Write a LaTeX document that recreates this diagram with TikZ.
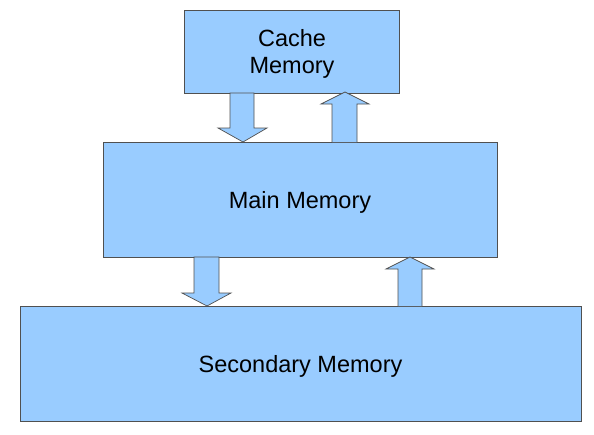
\documentclass[tikz,border=0pt]{standalone}
\usepackage{fontspec}
\setmainfont{Liberation Sans}
\definecolor{boxfill}{HTML}{99CCFF}
\definecolor{boxline}{HTML}{505050}
\begin{document}
\begin{tikzpicture}[x=1pt,y=-1pt,
  mem/.style={draw=boxline,fill=boxfill,line width=0.8pt,inner sep=0pt},
  memtext/.style={inner sep=0pt,align=center,font=\fontsize{23.5}{27}\selectfont},
  blockarrow/.style={draw=boxline,fill=boxfill,line width=0.7pt,line join=miter}]
\useasboundingbox (0,0) rectangle (594,434);
\node[mem,minimum width=215pt,minimum height=83pt] (cache) at (292,51.5) {};
\node[mem,minimum width=394pt,minimum height=115pt] (main) at (300,199.5) {};
\node[mem,minimum width=561pt,minimum height=115pt] (sec) at (300.5,363.5) {};
\node[memtext] (cachetext) at ([yshift=-2.5pt]cache.center) {Cache\\Memory};
\node[memtext] (maintext) at ([yshift=-2.5pt]main.center) {Main Memory};
\node[memtext] (sectext) at ([yshift=-2.5pt]sec.center) {Secondary Memory};
% cache -> main (down)
\draw[blockarrow] (230,93) -- (254,93) -- (254,128) -- (267,128) -- (243,142) -- (218,128) -- (230,128) -- cycle;
% main -> cache (up)
\draw[blockarrow] (332,142) -- (332,104) -- (321,104) -- (345,92) -- (369,104) -- (357,104) -- (357,142);
% main -> secondary (down)
\draw[blockarrow] (194,257) -- (219,257) -- (219,293) -- (231,293) -- (207,306) -- (182,293) -- (194,293) -- cycle;
% secondary -> main (up)
\draw[blockarrow] (398,306) -- (398,269) -- (386,269) -- (410,257) -- (434,269) -- (422,269) -- (422,306);
\end{tikzpicture}
\end{document}
